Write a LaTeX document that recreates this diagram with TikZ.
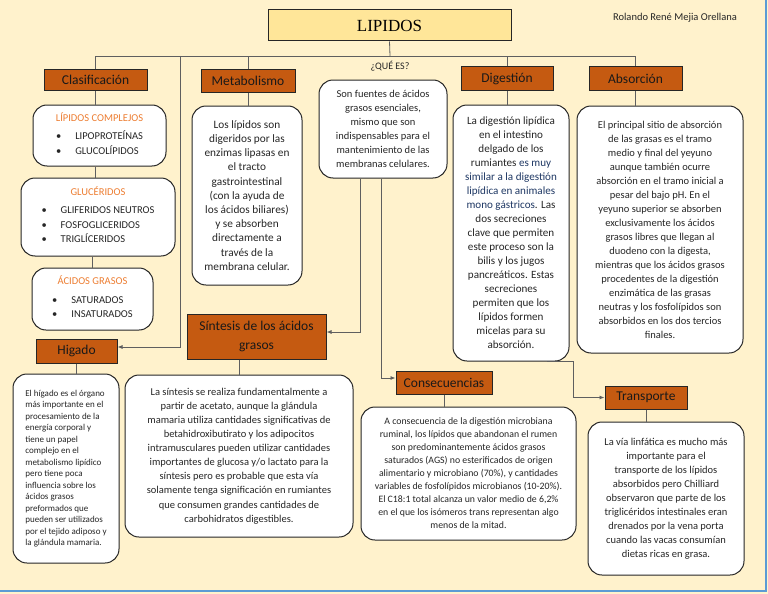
\documentclass[tikz,border=0pt]{standalone}
\usepackage{xcolor}
\usepackage{fontspec}
\setmainfont{Carlito}
\newfontfamily\titulofont{Liberation Serif}
\usepackage{tikz}
\usetikzlibrary{arrows.meta}
\usetikzlibrary{calc}

\definecolor{fondo}{RGB}{255,242,204}
\definecolor{naranja}{RGB}{197,90,17}
\definecolor{amarillo}{RGB}{255,230,153}
\definecolor{rotulo}{RGB}{237,125,49}
\definecolor{texto}{RGB}{38,38,38}
\definecolor{azul}{RGB}{31,56,100}
\definecolor{marco}{RGB}{91,155,213}
\definecolor{linea}{RGB}{95,95,95}

\begin{document}
\begin{tikzpicture}[x=1pt, y=-1pt,
    tema/.style={draw=black!85, line width=1pt, fill=naranja, inner sep=0pt, text=black!90,
        font=\fontsize{13.5}{19}\selectfont, align=center},
    nota/.style={draw=black!85, line width=1pt, fill=white, rounded corners=14pt, inner sep=0pt,
        text=texto, align=center, font=\fontsize{10.5}{14}\selectfont},
    lista/.style={nota, font=\fontsize{10.5}{14.5}\selectfont},
    rama/.style={draw=linea, line width=0.8pt},
    flecha/.style={rama, -{Latex[length=5pt,width=4pt]}}]

    \useasboundingbox (0,0) rectangle (768,594);
    \fill[fondo] (0,0) rectangle (768,594);
    \draw[marco, line width=1.2pt] (0,591) -- (766,591) -- (766,0);

    % titulo y autor
    \node[draw=black!85, line width=1pt, fill=amarillo, minimum width=243, minimum height=31,
        font=\titulofont\fontsize{17}{20}\selectfont] (titulo) at (389.5,25.5) {LIPIDOS};
    \node[text=black!85, font=\fontsize{10.5}{12}\selectfont] (autor) at (675,18) {Rolando René Mejia Orellana};
    \node[text=black!85, font=\fontsize{10}{12}\selectfont] (quees) at (390,66) {¿QUÉ ES?};

    % temas
    \node[tema, minimum width=103, minimum height=20] (clasif) at (95.5,80) {Clasificación};
    \node[tema, minimum width=94, minimum height=22] (metab) at (248,81) {Metabolismo};
    \node[tema, minimum width=92, minimum height=23] (digest) at (507,78.5) {Digestión};
    \node[tema, minimum width=93, minimum height=23] (absorc) at (635.5,78.5) {Absorción};
    \node[tema, minimum width=81, minimum height=24] (higado) at (76.5,351) {Higado};
    \node[tema, minimum width=139, minimum height=45] (sintesis) at (256.5,336.5) {Síntesis de los ácidos\\ grasos};
    \node[tema, minimum width=96, minimum height=23] (consec) at (444,382.5) {Consecuencias};
    \node[tema, minimum width=82, minimum height=23] (transp) at (646,397.5) {Transporte};

    % clasificacion
    \node[lista, minimum width=133, minimum height=61] (complejos) at (99.5,135.5)
        {\textcolor{rotulo}{LÍPIDOS COMPLEJOS}\\[7pt]
         \begin{tabular}{@{}l@{\hspace{14pt}}l@{}}
         \textbullet & LIPOPROTEÍNAS\\
         \textbullet & GLUCOLÍPIDOS
         \end{tabular}};
    \node[lista, minimum width=154, minimum height=78] (gluceridos) at (98,217)
        {\textcolor{rotulo}{GLUCÉRIDOS}\\[7pt]
         \begin{tabular}{@{}l@{\hspace{14pt}}l@{}}
         \textbullet & GLIFERIDOS NEUTROS\\
         \textbullet & FOSFOGLICERIDOS\\
         \textbullet & TRIGLÍCERIDOS
         \end{tabular}};
    \node[lista, minimum width=121, minimum height=62] (acidos) at (92.5,299)
        {\textcolor{rotulo}{ÁCIDOS GRASOS}\\[7pt]
         \begin{tabular}{@{}l@{\hspace{14pt}}l@{}}
         \textbullet & SATURADOS\\
         \textbullet & INSATURADOS
         \end{tabular}};

    % textos
    \node[nota, font=\fontsize{11.3}{14.2}\selectfont, minimum width=110, minimum height=179]
        (metabtxt) at (247,195.5)
        {Los lípidos son\\ digeridos por las\\ enzimas lipasas en\\ el tracto\\ gastrointestinal\\
         (con la ayuda de\\ los ácidos biliares)\\ y se absorben\\ directamente a\\ través de la\\
         membrana celular.};
    \node[nota, minimum width=128, minimum height=98] (fuentes) at (383,129)
        {Son fuentes de ácidos\\ grasos esenciales,\\ mismo que son\\ indispensables para el\\
         mantenimiento de las\\ membranas celulares.};
    \node[nota, font=\fontsize{11.1}{14}\selectfont, minimum width=116, minimum height=256]
        (digesttxt) at (511,233)
        {La digestión lipídica\\ en el intestino\\ delgado de los\\ rumiantes \textcolor{azul}{es muy}\\
         \textcolor{azul}{similar a la digestión}\\ \textcolor{azul}{lipídica en animales}\\
         \textcolor{azul}{mono gástricos}. Las\\ dos secreciones\\ clave que permiten\\
         este proceso son la\\ bilis y los jugos\\ pancreáticos. Estas\\ secreciones\\
         permiten que los\\ lípidos formen\\ micelas para su\\ absorción.};
    \node[nota, minimum width=166, minimum height=247] (absorctxt) at (660,229.5)
        {El principal sitio de absorción\\ de las grasas es el tramo\\ medio y final del yeyuno\\
         aunque también ocurre\\ absorción en el tramo inicial a\\ pesar del bajo pH. En el\\
         yeyuno superior se absorben\\ exclusivamente los ácidos\\ grasos libres que llegan al\\
         duodeno con la digesta,\\ mientras que los ácidos grasos\\ procedentes de la digestión\\
         enzimática de las grasas\\ neutras y los fosfolípidos son\\ absorbidos en los dos tercios\\
         finales.};
    \node[nota, align=left, font=\fontsize{9}{11.5}\selectfont, minimum width=106, minimum height=189]
        (higadotxt) at (66,468.5)
        {El hígado es el órgano\\ más importante en el\\ procesamiento de la\\ energía corporal y\\
         tiene un papel\\ complejo en el\\ metabolismo lipídico\\ pero tiene poca\\
         influencia sobre los\\ ácidos grasos\\ preformados que\\ pueden ser utilizados\\
         por el tejido adiposo y\\ la glándula mamaria.};
    \node[nota, font=\fontsize{10.5}{14.1}\selectfont, minimum width=228, minimum height=162]
        (sintesistxt) at (239,456)
        {La síntesis se realiza fundamentalmente a\\ partir de acetato, aunque la glándula\\
         mamaria utiliza cantidades significativas de\\ betahidroxibutirato y los adipocitos\\
         intramusculares pueden utilizar cantidades\\ importantes de glucosa y/o lactato para la\\
         síntesis pero es probable que esta vía\\ solamente tenga significación en rumiantes\\
         que consumen grandes cantidades de\\ carbohidratos digestibles.};
    \node[nota, font=\fontsize{9.8}{13}\selectfont, minimum width=215, minimum height=133]
        (consectxt) at (468.5,473.5)
        {A consecuencia de la digestión microbiana\\ ruminal, los lípidos que abandonan el rumen\\
         son predominantemente ácidos grasos\\ saturados (AGS) no esterificados de origen\\
         alimentario y microbiano (70\%), y cantidades\\ variables de fosfolípidos microbianos (10-20\%).\\
         El C18:1 total alcanza un valor medio de 6,2\%\\ en el que los isómeros trans representan algo\\
         menos de la mitad.};
    \node[nota, minimum width=156, minimum height=153] (transptxt) at (666,498.5)
        {La vía linfática es mucho más\\ importante para el\\ transporte de los lípidos\\
         absorbidos pero Chilliard\\ observaron que parte de los\\ triglicéridos intestinales eran\\
         drenados por la vena porta\\ cuando las vacas consumían\\ dietas ricas en grasa.};

    % ramas superiores
    \coordinate (nudo) at (390,56);
    \coordinate (bajada) at (180,56);
    \draw[rama] (titulo.south) -- (nudo);
    \draw[rama] (clasif.north) |- (absorc.north |- nudo) -- (absorc.north);
    \draw[rama] (metab.north) -- (metab.north |- nudo);
    \draw[rama] (digest.north) -- (digest.north |- nudo);
    \draw[flecha] (bajada) |- ([yshift=4pt]higado.east);

    % ramas de cada tema
    \draw[rama] (clasif.south) -- (clasif.south |- complejos.north);
    \draw[rama] (clasif.south |- complejos.south) -- (clasif.south |- gluceridos.north);
    \draw[rama] (acidos.north |- gluceridos.south) -- (acidos.north);
    \draw[rama] (metab.south) -- (metab.south |- metabtxt.north);
    \draw[rama] (digest.south) -- (digest.south |- digesttxt.north);
    \draw[rama] (absorc.south) -- (absorc.south |- absorctxt.north);
    \draw[rama] (higado.south) -- (higado.south |- higadotxt.north);
    \draw[rama] (sintesistxt.north |- sintesis.south) -- (sintesistxt.north);
    \draw[rama] (consec.south) -- (consec.south |- consectxt.north);
    \draw[rama] (transp.south) -- (transp.south |- transptxt.north);

    % flechas
    \draw[flecha] ([xshift=-23pt]fuentes.south) |- ([yshift=4.5pt]sintesis.east);
    \draw[flecha] ([xshift=-2pt]fuentes.south) |- ([yshift=4.5pt]consec.west);
    \draw[flecha] ([xshift=36pt]digesttxt.south) -- ++(26,0) |- (transp.west);
\end{tikzpicture}
\end{document}
